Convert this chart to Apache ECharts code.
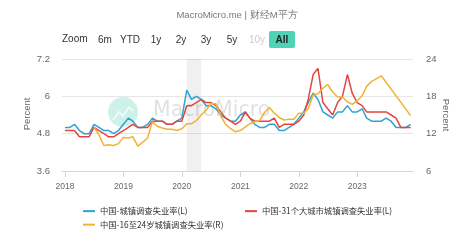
<!DOCTYPE html>
<html>
<head>
<meta charset="utf-8">
<script src="https://cdn.jsdelivr.net/npm/echarts@6/dist/echarts.min.js"></script>
<style>
html,body{margin:0;padding:0;background:#fff;}
#c{width:474px;height:248px;}
</style>
</head>
<body>
<div id="c"></div>
<script>
// Monthly dates 2018-01 .. 2023-12
var months = [];
for (var y = 2018; y <= 2023; y++) {
  for (var m = 1; m <= 12; m++) {
    months.push(y + '-' + (m < 10 ? '0' + m : m) + '-01');
  }
}
var seriesNames = ['中国-城镇调查失业率(L)', '中国-31个大城市城镇调查失业率(L)', '中国-16至24岁城镇调查失业率(R)'];
var xTickLabels = ['2018', '2019', '2020', '2021', '2022', '2023'];
var leftTicks = [3.6, 4.8, 6, 7.2];
var rightTicks = [6, 12, 18, 24];
var axisTitle = 'Percent';

var urban = [
  5.0, 5.0, 5.1, 4.9, 4.8, 4.8, 5.1, 5.0, 4.9, 4.9, 4.8, 4.9,
  5.1, 5.3, 5.2, 5.0, 5.0, 5.1, 5.3, 5.2, 5.2, 5.1, 5.1, 5.2,
  5.3, 6.2, 5.9, 6.0, 5.9, 5.7, 5.7, 5.6, 5.4, 5.3, 5.2, 5.2,
  5.4, 5.5, 5.3, 5.1, 5.0, 5.0, 5.1, 5.1, 4.9, 4.9, 5.0, 5.1,
  5.3, 5.5, 5.8, 6.1, 5.9, 5.5, 5.4, 5.3, 5.5, 5.5, 5.7, 5.5,
  5.5, 5.6, 5.3, 5.2, 5.2, 5.2, 5.3, 5.2, 5.0, 5.0, 5.0, 5.1
];
var cities31 = [
  4.9, 4.9, 4.9, 4.7, 4.7, 4.7, 5.0, 4.9, 4.8, 4.7, 4.7, 4.8,
  4.9, 5.0, 5.1, 5.0, 5.0, 5.0, 5.2, 5.2, 5.2, 5.1, 5.1, 5.2,
  5.2, 5.7, 5.7, 5.8, 5.9, 5.8, 5.8, 5.7, 5.5, 5.3, 5.2, 5.1,
  5.2, 5.5, 5.3, 5.2, 5.2, 5.2, 5.2, 5.3, 5.0, 5.1, 5.1, 5.1,
  5.2, 5.4, 5.9, 6.7, 6.9, 5.8, 5.6, 5.4, 5.8, 6.0, 6.7, 6.1,
  5.8, 5.7, 5.5, 5.5, 5.5, 5.5, 5.5, 5.4, 5.3, 5.0, 5.0, 5.0
];
var youth = [
  null, null, null, null, null, null, 13.0, 11.8, 10.1, 10.2, 10.1, 10.4,
  11.4, 11.3, 11.5, 10.0, 10.6, 11.3, 13.9, 13.2, 12.9, 12.7, 12.7, 12.5,
  12.8, 13.6, 13.6, 14.1, 15.0, 15.8, 16.8, 16.8, 14.8, 13.5, 12.8, 12.3,
  12.5, 13.1, 13.6, 13.9, 14.1, 15.4, 16.2, 15.3, 14.6, 14.2, 14.3, 14.3,
  15.3, 15.3, 16.0, 18.2, 18.4, 19.3, 19.9, 18.7, 17.9, 17.9, 17.1, 16.7,
  17.3, 18.1, 19.6, 20.4, 20.8, 21.3, null, null, null, null, null, 14.9
];

function pairs(vals) {
  return months.map(function (d, i) { return [d, vals[i]]; });
}

var colors = ['#2ea3d3', '#e2463d', '#f2b233'];
var FONT = 'Liberation Sans, Arial, sans-serif';
var chart = echarts.init(document.getElementById('c'), null, {renderer: 'canvas'});

var legendText = {fontSize: 8.3, color: '#333', fontFamily: 'Noto Sans CJK SC, sans-serif'};
var option = {
  animation: false,
  backgroundColor: '#fff',
  title: {
    text: 'MacroMicro.me | 财经M平方',
    left: 'center',
    top: 5,
    textStyle: {fontSize: 9.5, fontWeight: 'normal', color: '#777', fontFamily: FONT}
  },
  grid: {left: 62, right: 61, top: 59, bottom: 77},
  xAxis: {
    type: 'time',
    min: '2017-12-13',
    max: '2023-12-16',
    minInterval: 365 * 24 * 3600 * 1000,
    maxInterval: 366 * 24 * 3600 * 1000,
    axisLine: {lineStyle: {color: '#ccd6eb'}},
    axisTick: {show: true, length: 6, lineStyle: {color: '#ccd6eb'}},
    axisLabel: {
      formatter: function (v) {
        var yr = String(new Date(v).getFullYear());
        return xTickLabels.indexOf(yr) >= 0 ? yr : '';
      },
      color: '#666', fontSize: 8.5, margin: 11, fontFamily: FONT
    },
    splitLine: {show: false}
  },
  yAxis: [
    {
      type: 'value', min: leftTicks[0], max: leftTicks[3], interval: 1.2,
      position: 'left',
      axisLine: {show: false}, axisTick: {show: false},
      axisLabel: {color: '#666', fontSize: 9.5, margin: 12, fontFamily: FONT,
        formatter: function (v) { return String(Math.round(v * 10) / 10); }},
      splitLine: {lineStyle: {color: '#e6e6e6'}}
    },
    {
      type: 'value', min: rightTicks[0], max: rightTicks[3], interval: 6,
      position: 'right',
      axisLine: {show: false}, axisTick: {show: false},
      axisLabel: {color: '#666', fontSize: 9.5, margin: 13, fontFamily: FONT},
      splitLine: {show: false}
    }
  ],
  legend: [
    {data: [seriesNames[0]], left: 83, top: 207, padding: 0, itemWidth: 12, itemHeight: 2, itemGap: 0, icon: 'rect', textStyle: legendText},
    {data: [seriesNames[1]], left: 245, top: 207, padding: 0, itemWidth: 12, itemHeight: 2, itemGap: 0, icon: 'rect', textStyle: legendText},
    {data: [seriesNames[2]], left: 83, top: 220.5, padding: 0, itemWidth: 12, itemHeight: 2, itemGap: 0, icon: 'rect', textStyle: legendText}
  ],
  graphic: [
    // axis titles
    {type: 'text', x: 27, y: 114, rotation: Math.PI / 2, silent: true,
      style: {text: axisTitle, fontSize: 9.5, fill: '#666', align: 'center', verticalAlign: 'middle', fontFamily: FONT}},
    {type: 'text', x: 446, y: 115, rotation: -Math.PI / 2, silent: true,
      style: {text: axisTitle, fontSize: 9.5, fill: '#666', align: 'center', verticalAlign: 'middle', fontFamily: FONT}},
    // watermark
    {type: 'circle', shape: {cx: 123, cy: 112, r: 15}, style: {fill: 'rgba(79,209,181,0.28)'}, z: 0, silent: true},
    {type: 'polyline', shape: {points: [[113, 120], [119, 112], [123, 116], [129, 107], [133, 111]]},
      style: {stroke: 'rgba(255,255,255,0.8)', lineWidth: 1.5, fill: null}, z: 0, silent: true},
    {type: 'text', left: 153, top: 100, z: 0, silent: true,
      style: {text: 'MacroMicro', fontSize: 20.5, fontFamily: 'DejaVu Sans, sans-serif', fill: 'rgba(0,0,0,0.12)'}},
    // range selector
    {type: 'text', left: 62, top: 34, style: {text: 'Zoom', fontSize: 10, fill: '#333', fontFamily: FONT}},
    {type: 'text', x: 105, y: 40, style: {text: '6m', fontSize: 10, fill: '#333', align: 'center', verticalAlign: 'middle', fontFamily: FONT}},
    {type: 'text', x: 130, y: 40, style: {text: 'YTD', fontSize: 10, fill: '#333', align: 'center', verticalAlign: 'middle', fontFamily: FONT}},
    {type: 'text', x: 156, y: 40, style: {text: '1y', fontSize: 10, fill: '#333', align: 'center', verticalAlign: 'middle', fontFamily: FONT}},
    {type: 'text', x: 181, y: 40, style: {text: '2y', fontSize: 10, fill: '#333', align: 'center', verticalAlign: 'middle', fontFamily: FONT}},
    {type: 'text', x: 206, y: 40, style: {text: '3y', fontSize: 10, fill: '#333', align: 'center', verticalAlign: 'middle', fontFamily: FONT}},
    {type: 'text', x: 232, y: 40, style: {text: '5y', fontSize: 10, fill: '#333', align: 'center', verticalAlign: 'middle', fontFamily: FONT}},
    {type: 'text', x: 257, y: 40, style: {text: '10y', fontSize: 10, fill: '#cccccc', align: 'center', verticalAlign: 'middle', fontFamily: FONT}},
    {type: 'rect', shape: {x: 269, y: 31, width: 26, height: 17, r: 2}, style: {fill: '#4dd4b4'}},
    {type: 'text', x: 282, y: 40, style: {text: 'All', fontSize: 10, fontWeight: 'bold', fill: '#222', align: 'center', verticalAlign: 'middle', fontFamily: FONT}}
  ],
  series: [
    {
      name: seriesNames[0], type: 'line', yAxisIndex: 0, data: pairs(urban),
      showSymbol: false, lineStyle: {width: 1.5, color: colors[0]}, itemStyle: {color: colors[0]}, z: 3,
      markArea: {silent: true, itemStyle: {color: 'rgba(0,0,0,0.06)'},
        data: [[{xAxis: '2020-02-01'}, {xAxis: '2020-05-01'}]]}
    },
    {
      name: seriesNames[1], type: 'line', yAxisIndex: 0, data: pairs(cities31),
      showSymbol: false, lineStyle: {width: 1.5, color: colors[1]}, itemStyle: {color: colors[1]}, z: 4
    },
    {
      name: seriesNames[2], type: 'line', yAxisIndex: 1, data: pairs(youth), connectNulls: true,
      showSymbol: false, lineStyle: {width: 1.5, color: colors[2]}, itemStyle: {color: colors[2]}, z: 5
    }
  ]
};
chart.setOption(option);
</script>
</body>
</html>
